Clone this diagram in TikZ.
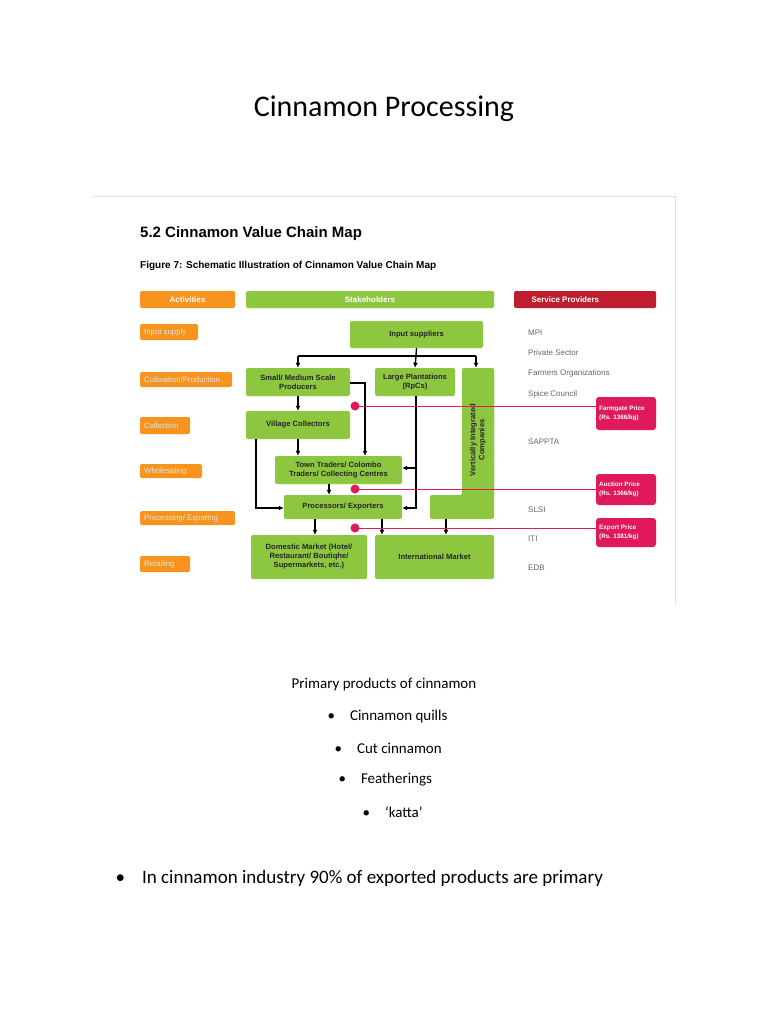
\documentclass[tikz,border=0pt]{standalone}
\usepackage{fontspec}
\setmainfont{Carlito}
\newfontfamily\dfont{Liberation Sans}
\usetikzlibrary{fit,arrows.meta,calc}
\definecolor{gr}{HTML}{8DC63F}
\definecolor{org}{HTML}{F7941D}
\definecolor{rd}{HTML}{BE1E2D}
\definecolor{pk}{HTML}{E0195A}
\begin{document}
\begin{tikzpicture}[x=1pt,y=-1pt,
 gbox/.style={fill=gr,rounded corners=2pt,inner sep=0pt,align=center,font=\dfont\fontsize{7.6}{9}\selectfont\bfseries,text=black!85},
 obox/.style={fill=org,rounded corners=1.5pt,inner sep=0pt},
 hdr/.style={rounded corners=1.5pt,inner sep=0pt},
 pbox/.style={fill=pk,rounded corners=3pt,inner sep=0pt,align=left,font=\dfont\fontsize{6.3}{9}\selectfont\bfseries,text=white},
 sp/.style={anchor=west,font=\dfont\fontsize{8}{9}\selectfont,text=black!60,inner sep=0pt},
 arr/.style={line width=1.4pt,-{Latex[length=5pt,width=5pt]}},
 ln/.style={line width=1.4pt},
 pl/.style={pk,line width=0.8pt},
 body/.style={font=\fontsize{15}{18}\selectfont,anchor=center}]
\useasboundingbox (0,0) rectangle (768,1024);
\fill[white] (0,0) rectangle (768,1024);
\node[font=\fontsize{30}{36}\selectfont] (title) at (384,109) {Cinnamon Processing};
\draw[black!12] (93,196) -- (675,196) -- (675,605);
% headings
\node[anchor=west,font=\dfont\fontsize{15}{17}\selectfont\bfseries,inner sep=0pt] (h1) at (140,234) {5.2 Cinnamon Value Chain Map};
\node[anchor=west,font=\dfont\fontsize{10}{12}\selectfont\bfseries,inner sep=0pt] (h2) at (140,266) {Figure 7: Schematic Illustration of Cinnamon Value Chain Map};
\node[hdr,fill=org,fit={(140,291)(235,308)}] (act) {};
\node[font=\dfont\fontsize{8}{9}\selectfont\bfseries,text=white] at (act) {Activities};
\node[hdr,fill=gr,fit={(246,291)(494,308)}] (stk) {};
\node[font=\dfont\fontsize{8}{9}\selectfont\bfseries,text=white] at (stk) {Stakeholders};
\node[hdr,fill=rd,fit={(514,291)(656,308)}] (svp) {};
\node[anchor=west,font=\dfont\fontsize{8}{9}\selectfont\bfseries,text=white] at (528,300) {Service Providers};
% activities
\foreach \n/\t/\a/\b/\c in {a1/{Input supply}/198/324/340,a2/{Cultivation/Production}/232/372/387,a3/{Collection}/190/417/434,a4/{Wholesaling}/202/464/478,a5/{Processing/ Exporing}/235/511/525,a6/{Retailing}/190/556/572}{
 \node[obox,fit={(140,\b)(\a,\c)}] (\n) {};
 \node[anchor=west,font=\dfont\fontsize{7.8}{9}\selectfont,text=white!90!black,inner sep=0pt] at ($(140,\b)!0.5!(140,\c)+(4,0.5)$) {\t};
}
% stakeholders
\node[gbox,fit={(350,321)(483,348)}] (ins) {};
\node[gbox] at (ins) {Input suppliers};
\node[gbox,fit={(246,368)(350,396)}] (sm) {};
\node[gbox] at (sm) {Small/ Medium Scale\\Producers};
\node[gbox,fit={(375,368)(455,396)}] (lp) {};
\node[gbox] at (lp) {Large Plantations\\(RpCs)};
\fill[gr,rounded corners=2pt] (462,368) -- (494,368) -- (494,519) -- (430,519) -- (430,495) -- (462,495) -- cycle;
\node[gbox,fit={(462,368)(494,495)}] (vic) {};
\node[gbox,rotate=90] at (478,440) {Vertically Integrated\\Companies};
\coordinate (vicb) at (446,519);
\node[gbox,fit={(246,411)(350,439)}] (vc) {};
\node[gbox] at (vc) {Village Collectors};
\node[gbox,fit={(275,456)(402,484)}] (tt) {};
\node[gbox] at (tt) {Town Traders/ Colombo\\Traders/ Collecting Centres};
\node[gbox,fit={(284,495)(402,519)}] (pe) {};
\node[gbox] at (pe) {Processors/ Exporters};
\node[gbox,fit={(251,535)(367,579)}] (dm) {};
\node[gbox] at (dm) {Domestic Market (Hotel/\\Restaurant/ Boutiqhe/\\Supermarkets, etc.)};
\node[gbox,fit={(375,535)(494,579)}] (im) {};
\node[gbox] at (im) {International Market};
% connectors
\draw[ln] (ins.south) -- (416,356);
\draw[ln] (298,356) -- (476,356);
\draw[arr] (298,356) -- (sm.north);
\draw[arr] (416,356) -- (lp.north);
\draw[arr] (476,356) -- (vic.north-|476,0);
\draw[arr] (sm.east|-0,383) -- (365,383) -- (tt.north-|365,0);
\draw[arr] (sm.south) -- (vc.north);
\draw[arr] (vc.south) -- (tt.north-|298,0);
\draw[arr] (256,439) -- (256,508) -- (pe.west|-0,508);
\draw[arr] (lp.south-|416,0) -- (416,508) -- (pe.east|-0,508);
\draw[arr] (416,468) -- (tt.east|-0,468);
\draw[arr] (tt.south-|329,0) -- (pe.north-|329,0);
\draw[arr] (pe.south-|315,0) -- (dm.north-|315,0);
\draw[arr] (pe.south-|382,0) -- (im.north-|382,0);
\draw[arr] (vicb) -- (im.north-|446,0);
% price boxes
\node[pbox,fit={(596,397)(656,430)}] (fp) {};
\node[pbox,anchor=west] at (599,413) {Farmgate Price\\(Rs. 1366/kg)};
\node[pbox,fit={(596,474)(656,505)}] (ap) {};
\node[pbox,anchor=west] at (599,489) {Auction Price\\(Rs. 1366/kg)};
\node[pbox,fit={(596,518)(656,547)}] (ep) {};
\node[pbox,anchor=west] at (599,532) {Export Price\\(Rs. 1381/kg)};
\foreach \y/\p in {406/fp,489/ap,528/ep}{
 \fill[pk] (355,\y) circle (4.5);
 \draw[pl] (355,\y) -- (\p.west|-0,\y);
}
% service providers
\foreach \t/\y in {MPI/333,Private Sector/353,Farmers Organizations/373,Spice Council/394,SAPPTA/442,SLSI/510,ITI/539,EDB/568}{
 \node[sp] at (528,\y) {\t};
}
% body text
\node[body] (pp) at (384,684) {Primary products of cinnamon};
\node[body,anchor=west] (b1) at (324,716) {•\hspace{1em}Cinnamon quills};
\node[body,anchor=west] (b2) at (331,748) {•\hspace{1em}Cut cinnamon};
\node[body,anchor=west] (b3) at (335,780) {•\hspace{1em}Featherings};
\node[body,anchor=west] (b4) at (359,812) {•\hspace{1em}‘katta’};
\node[anchor=west,font=\fontsize{19}{23}\selectfont] (last) at (112,878) {•\hspace{0.9em}In cinnamon industry 90\% of exported products are primary};
\end{tikzpicture}
\end{document}
